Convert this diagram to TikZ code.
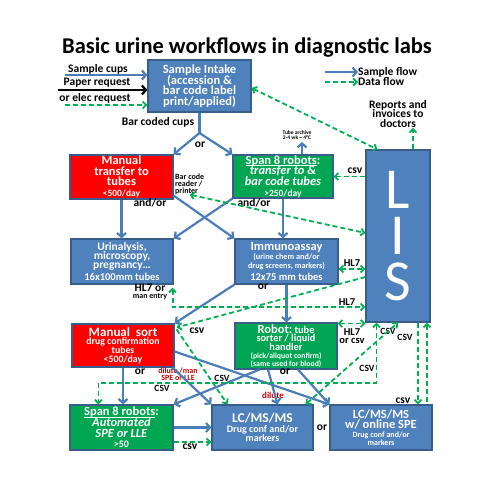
\documentclass[tikz,border=0pt]{standalone}
\usepackage{fontspec}
\setmainfont{Carlito}
\usetikzlibrary{arrows.meta}
\definecolor{flowblue}{RGB}{74,126,187}
\definecolor{boxblue}{RGB}{79,129,189}
\definecolor{edgeblue}{RGB}{56,93,138}
\definecolor{boxgreen}{RGB}{0,166,81}
\definecolor{datagreen}{RGB}{0,176,80}
\definecolor{boxred}{RGB}{255,0,0}
\definecolor{notered}{RGB}{192,0,0}
\newcommand{\fs}[2]{\fontsize{#1}{#2}\selectfont\lineskiplimit=-30pt\relax}
\newcommand{\uline}[1]{\setbox0\hbox{#1}\rlap{\rule[-1.3pt]{\wd0}{0.6pt}}\box0}

\begin{document}
\begin{tikzpicture}[x=1pt, y=-1pt,
block/.style = {rectangle, draw=edgeblue, line width=1.2pt, align=center, text=white, font=\bfseries\fs{12.5}{10.7}, inner sep=0pt},
bluebox/.style = {block, fill=boxblue},
greenbox/.style = {block, fill=boxgreen},
redbox/.style = {block, fill=boxred},
lbl/.style = {font=\bfseries\fs{11.5}{9.5}, inner sep=0pt, align=center},
tiny/.style = {font=\bfseries\fs{8}{7}, inner sep=0pt, align=center},
flow/.style = {draw=flowblue, line width=2.2pt, >={Straight Barb[length=4pt,width=9pt]}, ->},
data/.style = {draw=datagreen, line width=1.8pt, dash pattern=on 5pt off 3pt, >={Straight Barb[length=3.5pt,width=7pt]}, ->}]

  \useasboundingbox (0,0) rectangle (495,495);
  \node[font=\bfseries\fs{22.5}{22}] (title) at (247,47) {Basic urine workflows in diagnostic labs};

  % boxes
  \node[bluebox, minimum width=103, minimum height=52] (intake) at (199.5,86) {Sample Intake\\(accession \&\\bar code label\\print/applied)};
  \node[redbox, minimum width=103, minimum height=44] (mtrans) at (121.5,177) {Manual\\transfer to\\tubes\\{\fs{9.5}{9}<500/day}};
  \node[greenbox, minimum width=100, minimum height=43] (span1) at (283,176.5) {\uline{Span 8 robots}:\\\textit{transfer to \&}\\\textit{bar code tubes}\\{\fs{9.5}{9}>250/day}};
  \node[bluebox, minimum width=102, minimum height=45, font=\bfseries\fs{11.5}{9.2}] (urin) at (122,261.5) {Urinalysis,\\microscopy,\\pregnancy…\\[3pt]{\fs{10.5}{9}16x100mm tubes}};
  \node[bluebox, minimum width=103, minimum height=45, font=\bfseries\fs{12.5}{9}] (immuno) at (286.5,261.5) {Immunoassay\\{\fs{8.2}{8}(urine chem and/or}\\{\fs{8.2}{8}drug screens, markers)}\\[3pt]{\fs{10.5}{9}12x75 mm tubes}};
  \node[bluebox, minimum width=64, minimum height=172, font=\fs{58}{46}] (lis) at (398,236) {L\\I\\S};
  \node[redbox, minimum width=102, minimum height=43, font=\bfseries\fs{9.8}{8.8}] (msort) at (123,345.5) {{\fs{13}{10}Manual\ \ sort}\\drug confirmation\\tubes\\<500/day};
  \node[greenbox, minimum width=102, minimum height=46, font=\bfseries\fs{10.3}{8.2}] (robot) at (286,346) {{\fs{12.5}{10}Robot:}~tube\\[0.5pt]sorter / liquid\\handler\\{\fs{7.8}{7.5}(pick/aliquot confirm)}\\{\fs{7.8}{7.5}(same used for blood)}};
  \node[greenbox, minimum width=103, minimum height=45] (span2) at (121.5,427.5) {\uline{Span 8 robots}:\\\textit{Automated}\\\textit{SPE or LLE}\\{\fs{10}{9}>50}};
  \node[bluebox, minimum width=101, minimum height=45, font=\bfseries\fs{10}{9.5}] (lc1) at (262.5,427.5) {{\fs{13.5}{10}LC/MS/MS}\\Drug conf and/or\\markers};
  \node[bluebox, minimum width=102, minimum height=45, font=\bfseries\fs{8}{8}] (lc2) at (381,427.5) {{\fs{12.5}{10}LC/MS/MS}\\[2pt]{\fs{12.5}{10}w/ online SPE}\\[1pt]Drug conf and/or\\markers};

  % texts
  \node[lbl] (cups) at (98,69) {Sample cups};
  \node[lbl] (paper) at (97,83) {Paper request};
  \node[lbl] (elec) at (95,98) {or elec request};
  \node[lbl, anchor=west] (sflow) at (358,72) {Sample flow};
  \node[lbl, anchor=west] (dflow) at (358,82) {Data flow};
  \node[lbl] (reports) at (398,114) {Reports and\\invoices to\\doctors};
  \node[lbl] (barcups) at (158,122) {Bar coded cups};
  \node[lbl] (or1) at (200,145) {or};
  \node[tiny, font=\bfseries\fs{5.5}{4.5}] (archtxt) at (297,135) {Tube archive\\2-4 wk \textasciitilde\ 4°C};
  \node[tiny, anchor=west, align=left] (bcrtxt) at (175,184) {Bar code\\reader /\\printer};
  \node[lbl] (andor1) at (150,203) {and/or};
  \node[lbl] (andor2) at (254,203) {and/or};
  \node[lbl] (csv1) at (355,171) {csv};
  \node[lbl, font=\bfseries\fs{10.5}{10}] (hl71) at (352,263) {HL7};
  \node[lbl, font=\bfseries\fs{11.5}{7.5}] (hl7man) at (150,292) {HL7 or\\{\fs{8}{7}man entry}};
  \node[lbl, font=\bfseries\fs{10.5}{10}] (hl72) at (347,302) {HL7};
  \node[lbl] (or2) at (263,287) {or};
  \node[lbl] (csv2) at (197,331) {csv};
  \node[lbl, font=\bfseries\fs{10.5}{8.5}] (hl7csv) at (352,336) {HL7\\or csv};
  \node[lbl] (or3) at (140,372) {or};
  \node[tiny, text=notered] (dilman) at (178,374) {dilute /man\\SPE or LLE};
  \node[lbl] (or4) at (285,372) {or};
  \node[lbl, font=\bfseries\fs{9.5}{9}] (csv3) at (162,388) {CSV};
  \node[lbl, font=\bfseries\fs{9.5}{9}] (csv4) at (222,378) {CSV};
  \node[lbl, font=\bfseries\fs{9.5}{9}] (csv5) at (367,368) {CSV};
  \node[lbl, font=\bfseries\fs{9.5}{9}] (csv6) at (388,331) {CSV};
  \node[lbl, font=\bfseries\fs{9.5}{9}] (csv7) at (405,337) {CSV};
  \node[lbl] (csv8) at (403,401) {csv};
  \node[lbl] (csv9) at (190,447) {csv};
  \node[tiny, font=\bfseries\fs{9}{9}, text=notered] (dil) at (273,395) {dilute};
  \node[lbl] (or5) at (322,428) {or};

  % legend
  \draw[flow] ([xshift=-33pt]sflow.west) -- (sflow.west);
  \draw[data] ([xshift=-33pt]dflow.west) -- (dflow.west);

  % sample flow
  \coordinate (cupsin) at (65,75);
  \coordinate (paperin) at (58,90);
  \coordinate (elecin) at (65,105);
  \coordinate (split) at (199.5,133);
  \coordinate (arch) at (302,142);
  \draw[flow] (cupsin) -- (cupsin -| intake.west);
  \draw[flow, draw=black] (paperin) -- (paperin -| intake.west);
  \draw[flow, -] (intake.south) -- (split);
  \draw[flow] (split) -- (mtrans.north east);
  \draw[flow] (split) -- (span1.north west);
  \draw[flow] (arch |- span1.north) -- (arch);
  \draw[flow] (mtrans.south) -- (mtrans.south |- urin.north);
  \draw[flow] ([yshift=4pt]mtrans.south east) -- (immuno.north west);
  \draw[flow] (span1.south west) -- (urin.north east);
  \draw[flow] (span1.south) -- (span1.south |- immuno.north);
  \draw[flow] (immuno.south west) -- (msort.north east);
  \draw[flow] (immuno.south) -- (immuno.south |- robot.north);
  \draw[flow] (msort.south) -- (msort.south |- span2.north);
  \draw[flow] ([xshift=-2pt]msort.south east) -- (lc1.north west);
  \draw[flow] ([yshift=-6pt]msort.east) -- (lc2.north west);
  \draw[flow] ([xshift=25pt]robot.south west) -- (span2.north east);
  \draw[flow] ([xshift=-18pt]robot.south) -- ([xshift=15pt]lc1.north);
  \draw[flow] ([xshift=12pt]robot.south) -- (lc2.north west);
  \draw[flow] (span2.east) -- (lc1.west);

  % data flow
  \draw[data] (elecin) -- (elecin -| intake.west);
  \draw[data, <->] ([yshift=-2pt]intake.east) -- ([xshift=12pt]lis.north west);
  \draw[data] ([xshift=15pt]lis.north) -- ([xshift=15pt]lis.north |- reports.south);
  \draw[data] (span1.east -| lis.west) -- (span1.east);
  \draw[data, <->] (bcrtxt.south) -- ([yshift=3pt]lis.west);
  \draw[data, <->] ([yshift=-7.5pt]immuno.east) -- ([yshift=-7.5pt]immuno.east -| lis.west);
  \draw[data, <->] ([shift={(-1pt,-3pt)}]urin.south east) |- ([yshift=-71pt]lis.west);
  \draw[data] ([yshift=-41pt]lis.west) -- ([shift={(2pt,-4pt)}]msort.north east);
  \draw[data, <->] ([yshift=-1pt]robot.north east) -- ([yshift=-1pt]robot.north east -| lis.west);
  \draw[data] ([shift={(2pt,-6pt)}]msort.north east) -- ([xshift=-35pt]lc1.north);
  \draw[data, <->] ([xshift=11pt]lis.south west) -- ++(0,60) -| ([xshift=29pt]span2.north west);
  \draw[data, <->] ([xshift=-8pt]lc1.north east) -- (lis.south);
  \draw[data] ([xshift=20pt]lis.south) -- ([xshift=20pt]lis.south |- lc2.north);
  \draw[data, <-] ([xshift=29pt]lis.south) -- ([xshift=29pt]lis.south |- lc2.north);
  \draw[data] ([yshift=-14.5pt]span2.east) -- ([yshift=-14.5pt]span2.east -| lc1.west);

\end{tikzpicture}
\end{document}
